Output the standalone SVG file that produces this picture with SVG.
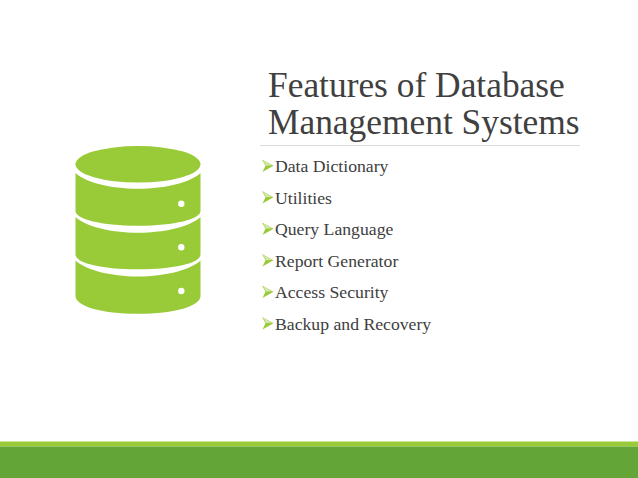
<svg xmlns="http://www.w3.org/2000/svg" width="638" height="478" viewBox="0 0 638 478">
<style>
.t{font-family:"Liberation Serif","Times New Roman",serif;fill:#404040}
.h{font-size:35.4px}
.b{font-size:17.7px}
.g{fill:#99cb38}
.d{fill:#fff}
</style>
<defs>
<g id="arrow"><path d="M0.500 0L12 6.200L1 12.500L4 6.200Z" fill="#99cb38"/><path d="M1.500 0.800L10.500 6L4.500 6Z" fill="#d6e9ae"/></g>
</defs>
<rect width="638" height="478" fill="#fff"/>
<g id="footer">
<rect x="0" y="441.500" width="638" height="5" fill="#99cb38"/>
<rect x="0" y="446.500" width="638" height="31.500" fill="#63a537"/>
</g>
<g id="database">
<ellipse class="g" cx="138" cy="164.300" rx="62.500" ry="18.300"/>
<path class="g" d="M75.500 173C85 182 110 188.800 138 188.800C166 188.800 191 182 200.500 173V211C200.500 219 175 225.800 138 225.800C101 225.800 75.500 219 75.500 211Z"/>
<path class="g" d="M75.500 217C85 226 110 232.800 138 232.800C166 232.800 191 226 200.500 217V254.500C200.500 263 175 269.300 138 269.300C101 269.300 75.500 263 75.500 254.500Z"/>
<path class="g" d="M75.500 260.500C85 269.500 110 276.500 138 276.500C166 276.500 191 269.500 200.500 260.500V296C200.500 306 175 313.800 138 313.800C101 313.800 75.500 306 75.500 296Z"/>
<circle class="d" cx="181.300" cy="203.700" r="3.200"/>
<circle class="d" cx="181.300" cy="247.200" r="3.200"/>
<circle class="d" cx="181.300" cy="291" r="3.200"/>
</g>
<g id="title">
<text class="t h" x="268" y="96.500">Features of Database</text>
<text class="t h" x="268" y="133.500">Management Systems</text>
<rect x="260" y="145" width="320" height="1" fill="#d9d9d9"/>
</g>
<g id="item1"><use href="#arrow" x="261.500" y="159.500"/><text class="t b" x="275" y="172">Data Dictionary</text></g>
<g id="item2"><use href="#arrow" x="261.500" y="191"/><text class="t b" x="275" y="203.500">Utilities</text></g>
<g id="item3"><use href="#arrow" x="261.500" y="222.500"/><text class="t b" x="275" y="235">Query Language</text></g>
<g id="item4"><use href="#arrow" x="261.500" y="254"/><text class="t b" x="275" y="266.500">Report Generator</text></g>
<g id="item5"><use href="#arrow" x="261.500" y="285.500"/><text class="t b" x="275" y="298">Access Security</text></g>
<g id="item6"><use href="#arrow" x="261.500" y="317"/><text class="t b" x="275" y="329.500">Backup and Recovery</text></g>
</svg>
